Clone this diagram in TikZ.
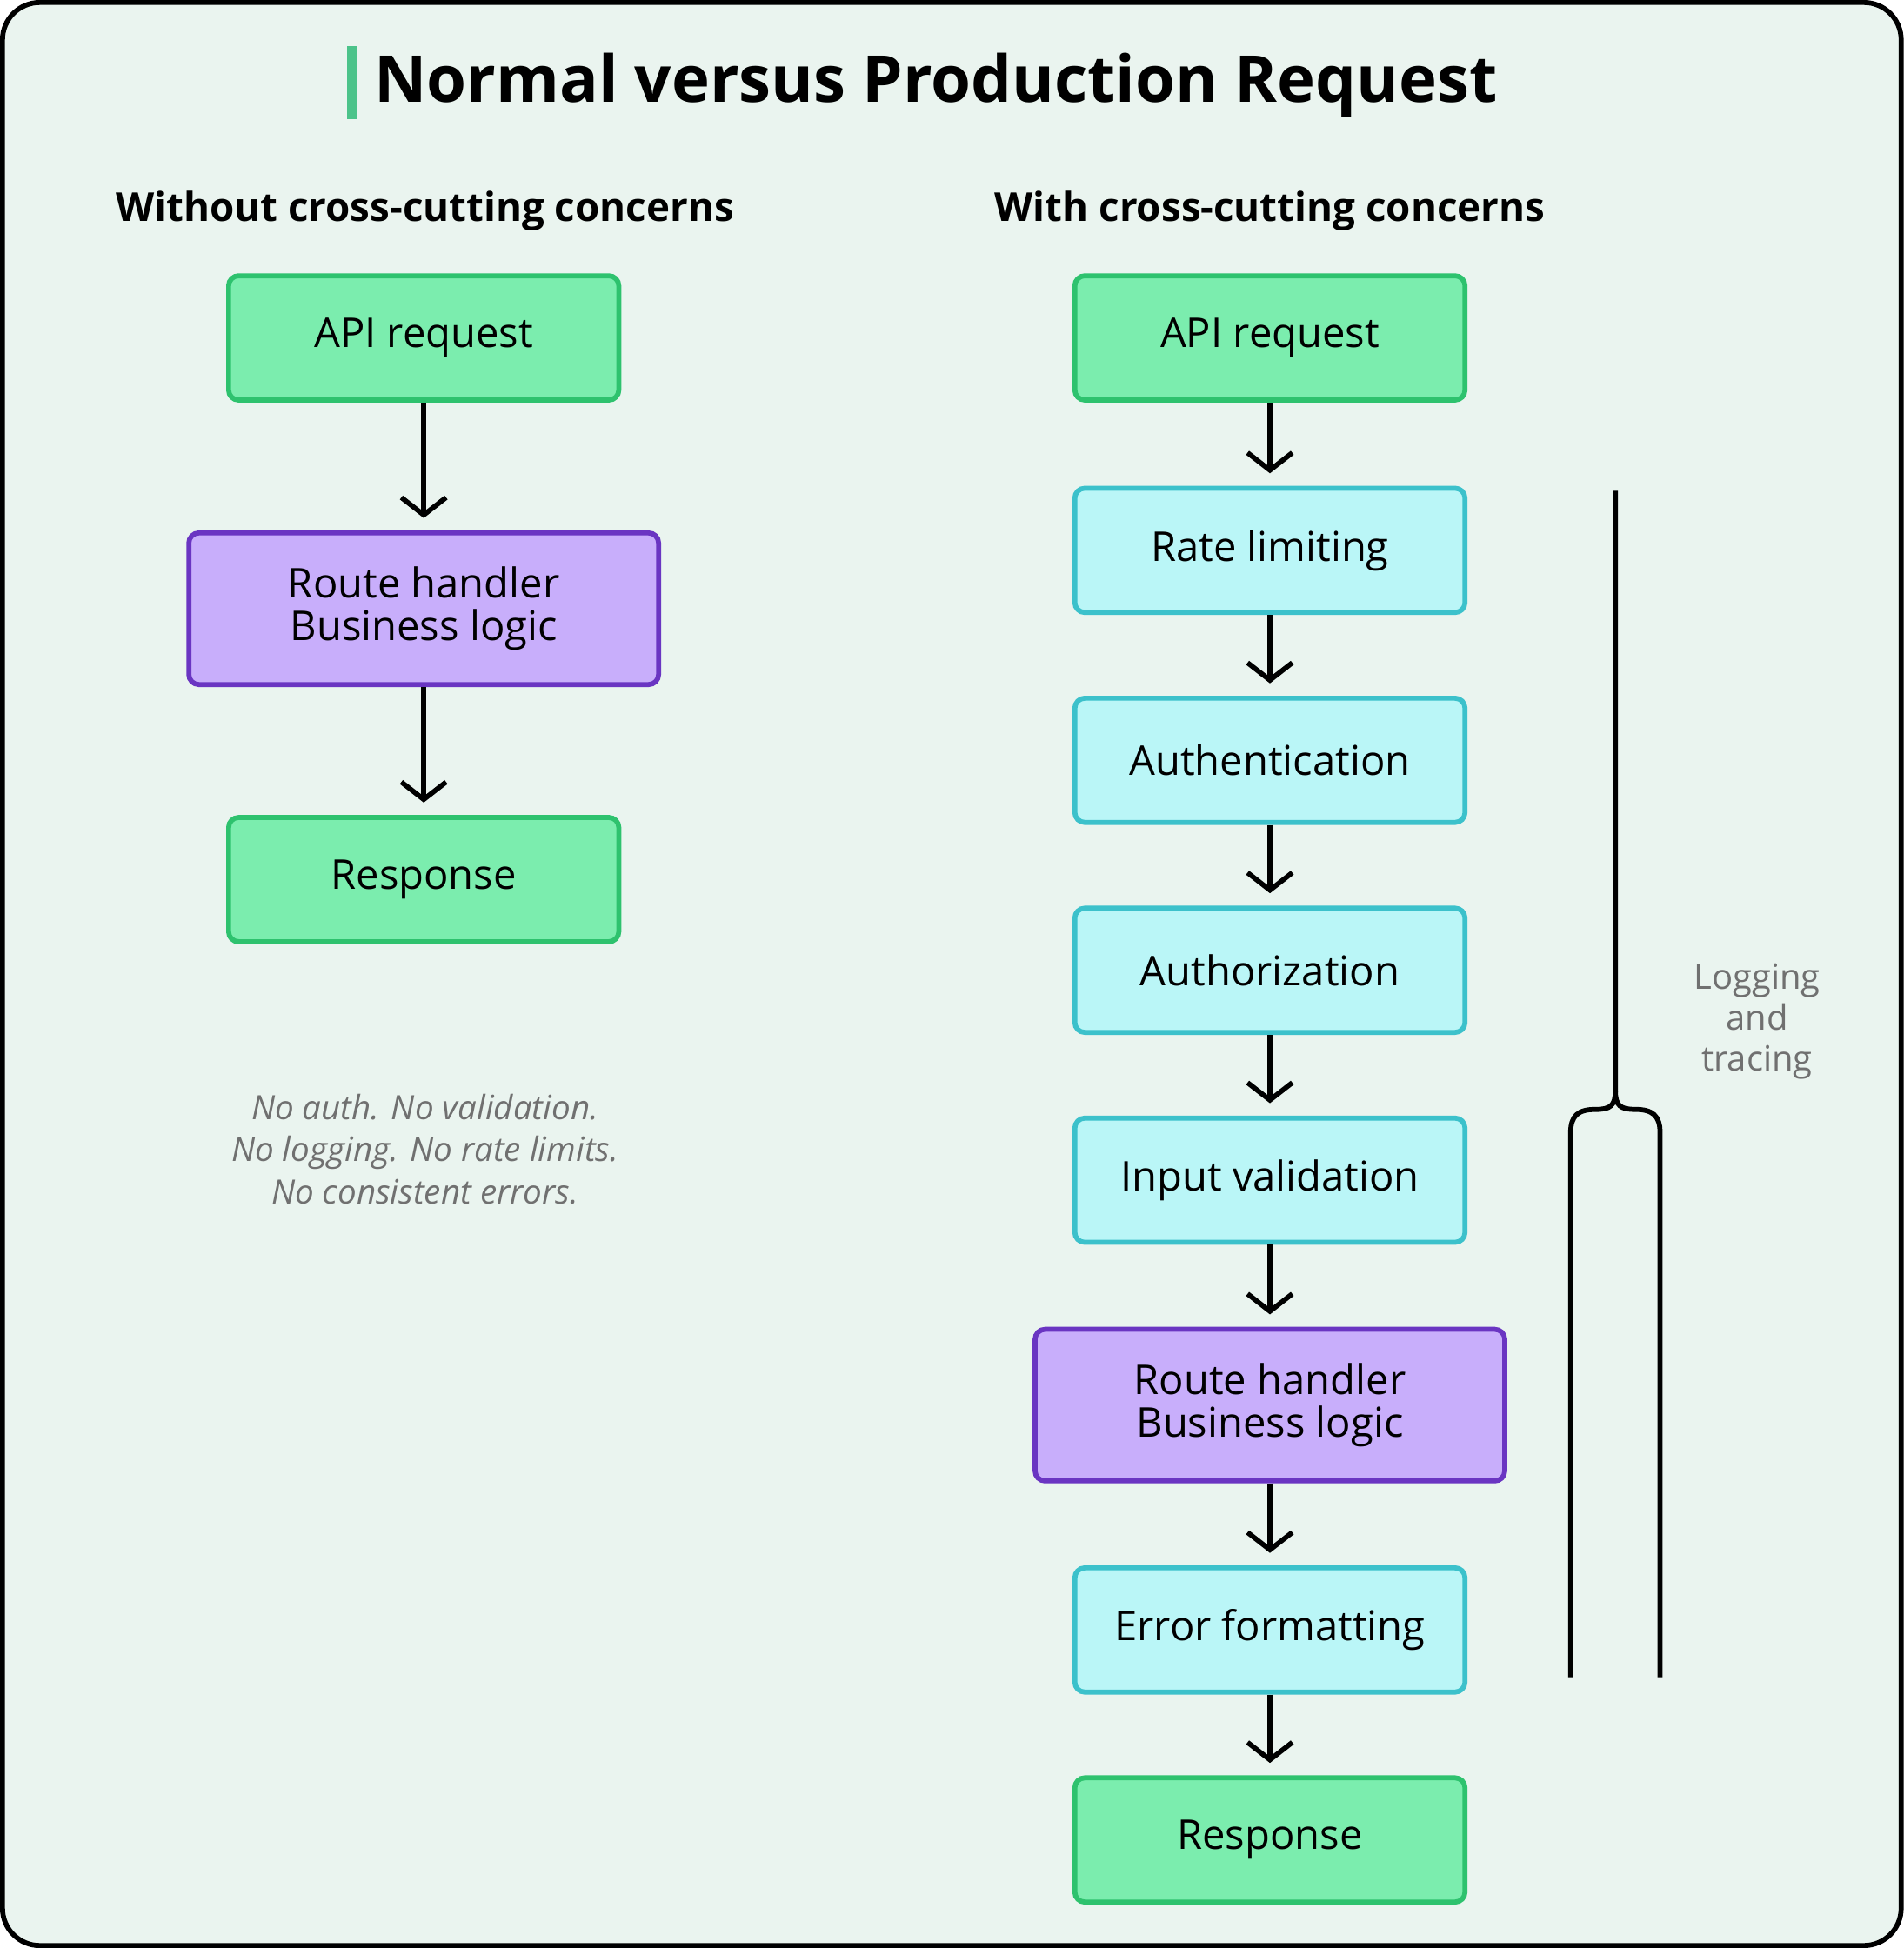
\documentclass[tikz,border=0pt]{standalone}
\usepackage{fontspec}
\setmainfont{Open Sans}
\usetikzlibrary{arrows.meta}
\definecolor{bg}{HTML}{EAF4EF}
\definecolor{gfill}{HTML}{7BEDAE}\definecolor{gdraw}{HTML}{2EC26E}
\definecolor{cfill}{HTML}{BAF6F7}\definecolor{cdraw}{HTML}{3CC1CB}
\definecolor{pfill}{HTML}{C8AEFB}\definecolor{pdraw}{HTML}{6A35C2}
\definecolor{bar}{HTML}{4CC38A}\definecolor{note}{HTML}{707070}
\tikzset{
 box/.style={draw, line width=2pt, rounded corners=4pt, minimum width=157pt, minimum height=50pt, align=center, font=\fontsize{16.5}{17}\selectfont, inner sep=0pt},
 gbox/.style={box, fill=gfill, draw=gdraw},
 cbox/.style={box, fill=cfill, draw=cdraw},
 pbox/.style={box, fill=pfill, draw=pdraw, minimum width=189pt, minimum height=61pt},
 flow/.style={line width=2pt, -{Straight Barb[length=7pt,width=18pt,line width=2pt]}, shorten >=5pt},
 gray/.style={text=note, align=center}
}
\begin{document}
\begin{tikzpicture}[x=0.5pt,y=-0.5pt]
\useasboundingbox (0,0) rectangle (1532,1568);
\draw[fill=bg, line width=2pt, rounded corners=15pt] (2,2) rectangle (1530,1566);
\fill[bar] (279,37) rectangle (287,96);
\node[anchor=west, font=\bfseries\fontsize{26}{26}\selectfont] (title) at (294,69) {Normal versus Production Request};
\node[font=\bfseries\fontsize{16}{16}\selectfont] (h1) at (342,170) {Without cross-cutting concerns};
\node[font=\bfseries\fontsize{16}{16}\selectfont] (h2) at (1022,170) {With cross-cutting concerns};
% left
\node[gbox] (la) at (341,272) {API request};
\node[pbox] (lr) at (341,490) {Route handler\\Business logic};
\node[gbox] (lp) at (341,708) {Response};
\draw[flow] (la) -- (lr);
\draw[flow] (lr) -- (lp);
\node[gray, font=\itshape\fontsize{13.5}{17}\selectfont] (nt) at (342,925) {No auth. No validation.\\No logging. No rate limits.\\No consistent errors.};
% right
\node[gbox] (ra) at (1022,272) {API request};
\node[cbox] (r1) at (1022,443) {Rate limiting};
\node[cbox] (r2) at (1022,612) {Authentication};
\node[cbox] (r3) at (1022,781) {Authorization};
\node[cbox] (r4) at (1022,950) {Input validation};
\node[pbox] (r5) at (1022,1131) {Route handler\\Business logic};
\node[cbox] (r6) at (1022,1312) {Error formatting};
\node[gbox] (r7) at (1022,1481) {Response};
\foreach \a/\b in {ra/r1,r1/r2,r2/r3,r3/r4,r4/r5,r5/r6,r6/r7} \draw[flow] (\a) -- (\b);
% brace
\draw[line width=2pt] (1300,395) -- (1300,878) .. controls (1300,890) and (1296,893) .. (1284,893) .. controls (1270,893) and (1264,898) .. (1264,912) -- (1264,1350);
\draw[line width=2pt] (1300,878) .. controls (1300,890) and (1304,893) .. (1316,893) .. controls (1330,893) and (1336,898) .. (1336,912) -- (1336,1350);
\node[gray, font=\fontsize{14}{16.5}\selectfont] (lt) at (1414,822) {Logging\\and\\tracing};
\end{tikzpicture}
\end{document}
